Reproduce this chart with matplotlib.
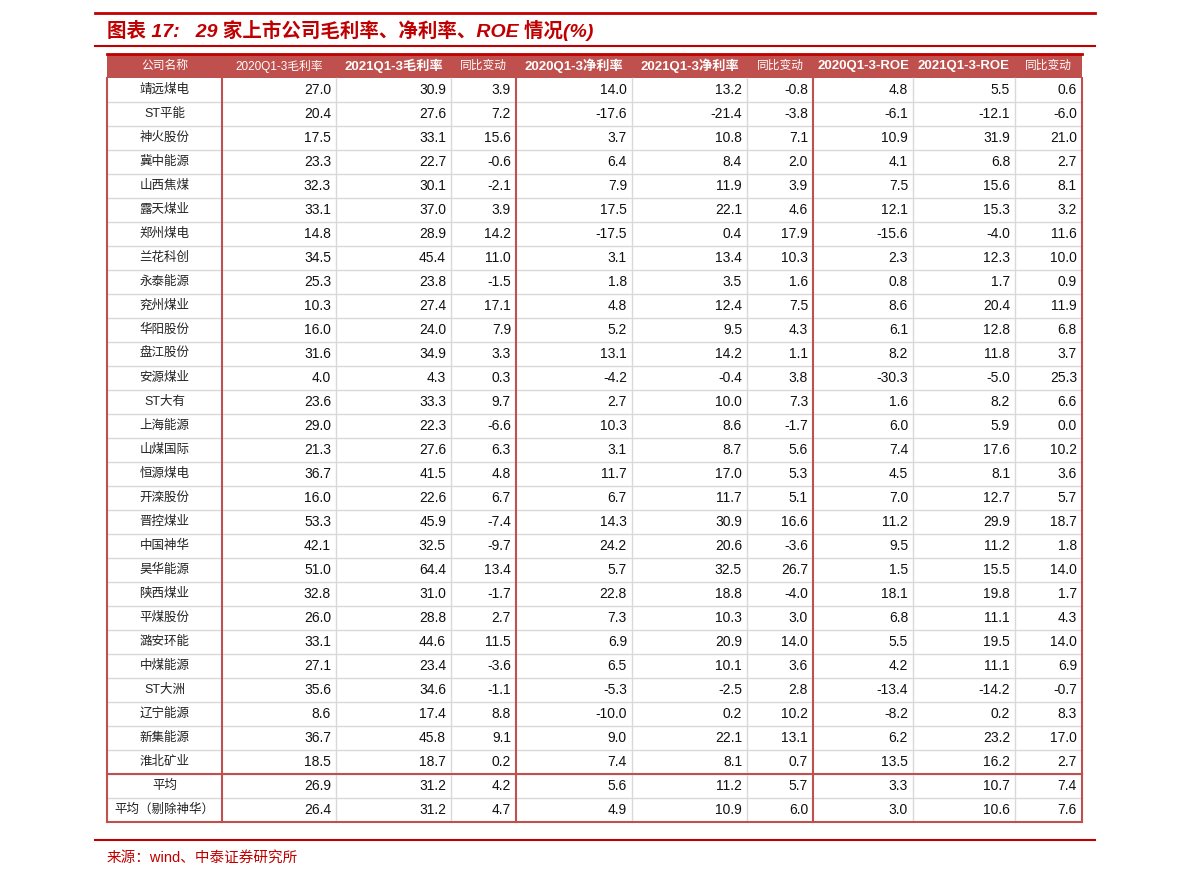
import matplotlib.pyplot as plt
from matplotlib.patches import Rectangle

plt.rcParams['font.family'] = ['Liberation Sans', 'Noto Sans CJK SC', 'DejaVu Sans']

headers = ['公司名称', '2020Q1-3毛利率', '2021Q1-3毛利率', '同比变动', '2020Q1-3净利率',
           '2021Q1-3净利率', '同比变动', '2020Q1-3-ROE', '2021Q1-3-ROE', '同比变动']

companies = ['靖远煤电', 'ST平能', '神火股份', '冀中能源', '山西焦煤', '露天煤业', '郑州煤电', '兰花科创',
             '永泰能源', '兖州煤业', '华阳股份', '盘江股份', '安源煤业', 'ST大有', '上海能源', '山煤国际',
             '恒源煤电', '开滦股份', '晋控煤业', '中国神华', '昊华能源', '陕西煤业', '平煤股份', '潞安环能',
             '中煤能源', 'ST大洲', '辽宁能源', '新集能源', '淮北矿业', '平均', '平均（剔除神华）']

gross_2020 = [27.0, 20.4, 17.5, 23.3, 32.3, 33.1, 14.8, 34.5, 25.3, 10.3, 16.0, 31.6, 4.0, 23.6, 29.0, 21.3,
              36.7, 16.0, 53.3, 42.1, 51.0, 32.8, 26.0, 33.1, 27.1, 35.6, 8.6, 36.7, 18.5, 26.9, 26.4]
gross_2021 = [30.9, 27.6, 33.1, 22.7, 30.1, 37.0, 28.9, 45.4, 23.8, 27.4, 24.0, 34.9, 4.3, 33.3, 22.3, 27.6,
              41.5, 22.6, 45.9, 32.5, 64.4, 31.0, 28.8, 44.6, 23.4, 34.6, 17.4, 45.8, 18.7, 31.2, 31.2]
gross_chg = [3.9, 7.2, 15.6, -0.6, -2.1, 3.9, 14.2, 11.0, -1.5, 17.1, 7.9, 3.3, 0.3, 9.7, -6.6, 6.3,
             4.8, 6.7, -7.4, -9.7, 13.4, -1.7, 2.7, 11.5, -3.6, -1.1, 8.8, 9.1, 0.2, 4.2, 4.7]
net_2020 = [14.0, -17.6, 3.7, 6.4, 7.9, 17.5, -17.5, 3.1, 1.8, 4.8, 5.2, 13.1, -4.2, 2.7, 10.3, 3.1,
            11.7, 6.7, 14.3, 24.2, 5.7, 22.8, 7.3, 6.9, 6.5, -5.3, -10.0, 9.0, 7.4, 5.6, 4.9]
net_2021 = [13.2, -21.4, 10.8, 8.4, 11.9, 22.1, 0.4, 13.4, 3.5, 12.4, 9.5, 14.2, -0.4, 10.0, 8.6, 8.7,
            17.0, 11.7, 30.9, 20.6, 32.5, 18.8, 10.3, 20.9, 10.1, -2.5, 0.2, 22.1, 8.1, 11.2, 10.9]
net_chg = [-0.8, -3.8, 7.1, 2.0, 3.9, 4.6, 17.9, 10.3, 1.6, 7.5, 4.3, 1.1, 3.8, 7.3, -1.7, 5.6,
           5.3, 5.1, 16.6, -3.6, 26.7, -4.0, 3.0, 14.0, 3.6, 2.8, 10.2, 13.1, 0.7, 5.7, 6.0]
roe_2020 = [4.8, -6.1, 10.9, 4.1, 7.5, 12.1, -15.6, 2.3, 0.8, 8.6, 6.1, 8.2, -30.3, 1.6, 6.0, 7.4,
            4.5, 7.0, 11.2, 9.5, 1.5, 18.1, 6.8, 5.5, 4.2, -13.4, -8.2, 6.2, 13.5, 3.3, 3.0]
roe_2021 = [5.5, -12.1, 31.9, 6.8, 15.6, 15.3, -4.0, 12.3, 1.7, 20.4, 12.8, 11.8, -5.0, 8.2, 5.9, 17.6,
            8.1, 12.7, 29.9, 11.2, 15.5, 19.8, 11.1, 19.5, 11.1, -14.2, 0.2, 23.2, 16.2, 10.7, 10.6]
roe_chg = [0.6, -6.0, 21.0, 2.7, 8.1, 3.2, 11.6, 10.0, 0.9, 11.9, 6.8, 3.7, 25.3, 6.6, 0.0, 10.2,
           3.6, 5.7, 18.7, 1.8, 14.0, 1.7, 4.3, 14.0, 6.9, -0.7, 8.3, 17.0, 2.7, 7.4, 7.6]

columns = [gross_2020, gross_2021, gross_chg, net_2020, net_2021, net_chg, roe_2020, roe_2021, roe_chg]

red = '#c0504d'
dark_red = '#c00000'
W, H = 1191, 886
fig = plt.figure(figsize=(W / 100, H / 100), dpi=100)
ax = fig.add_axes([0, 0, 1, 1])
ax.set_xlim(0, W)
ax.set_ylim(H, 0)
ax.axis('off')

# title and rules
ax.plot([95, 1095], [13, 13], color=dark_red, lw=2)
ax.plot([95, 1095], [46, 46], color=dark_red, lw=1.5)
ax.text(107, 30, '图表 17:   29 家上市公司毛利率、净利率、ROE 情况(%)', color=dark_red, fontsize=14,
        fontstyle='italic', fontweight='bold', va='center', ha='left')

xs = [107, 222, 336, 451, 516, 632, 747, 813, 913, 1015, 1082]
top, hh, rh = 54, 24, 24
n = len(companies)
bottom = top + hh + n * rh

ax.add_patch(Rectangle((xs[0], top), xs[-1] - xs[0], hh, color=red, lw=0))
ax.plot([xs[0], xs[-1]], [top, top], color=dark_red, lw=2)
for i, h in enumerate(headers):
    big = i in (2, 4, 5, 7, 8)
    ax.text((xs[i] + xs[i + 1]) / 2, top + hh / 2, h, color='white', fontsize=9.5 if big else 8.5,
            fontweight='bold' if big else 'normal', ha='center', va='center')

for r in range(n):
    y = top + hh + r * rh
    yc = y + rh / 2
    ax.text((xs[0] + xs[1]) / 2, yc, companies[r], fontsize=9, ha='center', va='center', color='#222222')
    for c, col in enumerate(columns):
        ax.text(xs[c + 2] - 5, yc, f'{col[r]:.1f}', fontsize=10, ha='right', va='center', color='#111111')
    if r > 0:
        ax.plot([xs[0], xs[-1]], [y, y], color='#d9d9d9', lw=1)

# grid
for i, x in enumerate(xs):
    if i in (0, 1, 4, 7, 10):
        ax.plot([x, x], [top + hh, bottom], color=red, lw=1.5)
    else:
        ax.plot([x, x], [top + hh, bottom], color='#d9d9d9', lw=1)
ax.plot([xs[0], xs[-1]], [top + hh + 29 * rh] * 2, color=red, lw=1.5)
ax.plot([xs[0], xs[-1]], [bottom, bottom], color=red, lw=1.5)

ax.plot([95, 1095], [840, 840], color=dark_red, lw=1.5)
ax.text(107, 858, '来源：wind、中泰证券研究所', color=dark_red, fontsize=10.5, va='center', ha='left')

fig.savefig('out.png', dpi=100)
